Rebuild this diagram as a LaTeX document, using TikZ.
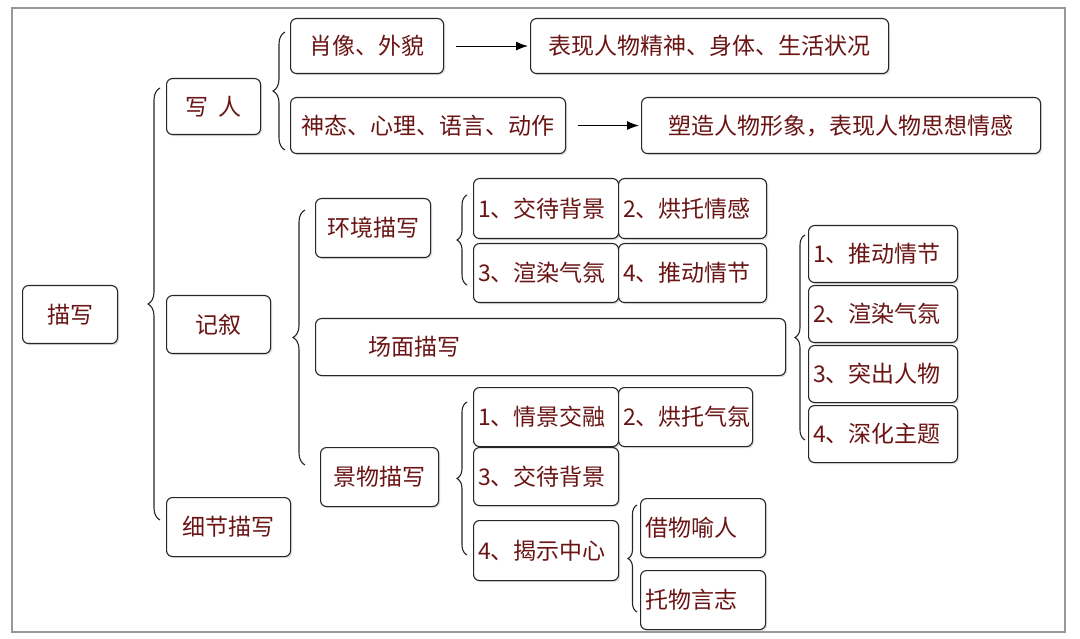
\documentclass[tikz,border=0pt]{standalone}
\usepackage{fontspec}
\setmainfont{Noto Sans CJK SC}
\usetikzlibrary{decorations.pathreplacing,shadows,arrows.meta}
\definecolor{txt}{HTML}{6A1414}
\begin{document}
\begin{tikzpicture}[x=1pt,y=-1pt,
 bx/.style={draw=black!85,line width=1.1pt,rounded corners=6pt,fill=white,drop shadow={shadow xshift=1.5pt,shadow yshift=-1.5pt,fill=black!25}},
 tx/.style={text=txt,font=\fontsize{23}{26}\selectfont},
 br/.style={draw=black!85,line width=1.1pt,decorate,decoration={brace,amplitude=12pt}},
 ar/.style={-{Latex[length=12pt,width=9pt]},line width=1pt,shorten <=12pt,shorten >=2pt}]
\fill[white] (0,0) rectangle (1080,639);
\useasboundingbox (0,0) rectangle (1080,639);
\draw[black!40,line width=1.5pt] (12,8) rectangle (1065,632);
\newcommand\bxn[6]{\node[bx,minimum width={#4-#2},minimum height={#5-#3},anchor=north west,inner sep=2pt] (#1) at (#2,#3) {}; \node[tx,anchor=west,inner sep=0pt] at ([xshift=5pt]#1.west) {#6};}
\newcommand\bxc[6]{\node[bx,minimum width={#4-#2},minimum height={#5-#3},anchor=north west,inner sep=2pt] (#1) at (#2,#3) {}; \node[tx] at (#1.center) {#6};}
% braces
\draw[br] (160,520) -- (160,88);
\draw[br] (285,150) -- (285,32);
\draw[br] (305,465) -- (305,210);
\draw[br,decoration={amplitude=10pt}] (467,285) -- (467,195);
\draw[br,decoration={amplitude=10pt}] (467,555) -- (467,402);
\draw[br,decoration={amplitude=9pt}] (637,612) -- (637,505);
\draw[br,decoration={amplitude=10pt}] (805,440) -- (805,235);
\bxc{ms}{22}{285}{117}{343}{描写}
\bxc{xr}{166}{78}{260}{134}{写\ \ 人}
\bxc{jx}{166}{295}{270}{353}{记叙}
\bxc{xj}{166}{497}{290}{556}{细节描写}
\bxc{xx}{290}{18}{443}{73}{肖像、外貌}
\bxc{st}{290}{97}{565}{153}{神态、心理、语言、动作}
\bxc{bx1}{530}{18}{888}{73}{表现人物精神、身体、生活状况}
\bxc{sz}{641}{97}{1040}{153}{塑造人物形象，表现人物思想情感}
\draw[ar] (xx) -- (bx1);
\draw[ar] (st) -- (sz);
\bxc{hj}{315}{198}{430}{257}{环境描写}
\bxn{h1}{473}{178}{618}{238}{1、交待背景}
\bxn{h2}{618}{178}{766}{238}{2、烘托情感}
\bxn{h3}{473}{243}{618}{302}{3、渲染气氛}
\bxn{h4}{618}{243}{766}{302}{4、推动情节}
\node[bx,minimum width=470,minimum height=57,anchor=north west] (cm) at (315,318) {};
\node[tx,anchor=west] at (365,347) {场面描写};
\bxn{c1}{808}{225}{957}{282}{1、推动情节}
\bxn{c2}{808}{285}{957}{342}{2、渲染气氛}
\bxn{c3}{808}{345}{957}{402}{3、突出人物}
\bxn{c4}{808}{405}{957}{462}{4、深化主题}
\bxc{jw}{320}{447}{438}{506}{景物描写}
\bxn{j1}{473}{387}{618}{446}{1、情景交融}
\bxn{j2}{618}{387}{752}{446}{2、烘托气氛}
\bxn{j3}{473}{447}{618}{505}{3、交待背景}
\bxn{j4}{473}{520}{618}{580}{4、揭示中心}
\bxn{t1}{640}{498}{765}{557}{借物喻人}
\bxn{t2}{640}{570}{765}{629}{托物言志}
\end{tikzpicture}
\end{document}
